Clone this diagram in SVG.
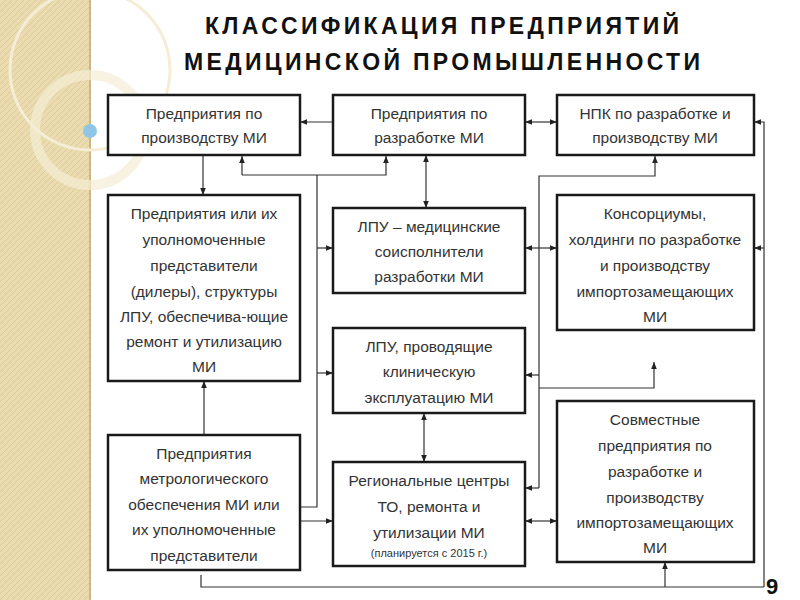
<svg xmlns="http://www.w3.org/2000/svg" width="800" height="600" viewBox="0 0 800 600">
<defs>
<marker id="a" viewBox="0 0 10 10" refX="10" refY="5" markerWidth="6" markerHeight="6" orient="auto-start-reverse"><path d="M0,1 L10,5 L0,9 z" fill="#222"/></marker>
<pattern id="p" width="6" height="6" patternUnits="userSpaceOnUse"><rect width="6" height="6" fill="#eadcb0"/><path d="M0,6 L6,0" stroke="#dccb98" stroke-width="1"/></pattern>
</defs>
<style>
.b{fill:#fff;stroke:#1a1a1a;stroke-width:2.5}
.t{font-family:"Liberation Sans",Arial,sans-serif;font-size:15.5px;fill:#333;text-anchor:middle}
.c{fill:none;stroke:#333;stroke-width:1.2}
.h{font-family:"Liberation Sans",Arial,sans-serif;font-size:23px;font-weight:bold;fill:#111;text-anchor:middle}
</style>
<rect width="800" height="600" fill="#fff"/>
<rect x="0" y="0" width="90" height="600" fill="url(#p)"/>
<line x1="90" y1="0" x2="90" y2="600" stroke="#ccb884" stroke-width="2"/>
<circle cx="90" cy="70" r="80" fill="none" stroke="#f5edd5" stroke-width="3"/>
<circle cx="90" cy="130" r="55" fill="none" stroke="#f5edd5" stroke-width="10" opacity="0.7"/>
<circle cx="90" cy="131" r="7" fill="#8fc6e8"/>
<text class="h" x="442" y="34" textLength="474" lengthAdjust="spacing">КЛАССИФИКАЦИЯ ПРЕДПРИЯТИЙ</text>
<text class="h" x="442" y="70" textLength="516" lengthAdjust="spacing">МЕДИЦИНСКОЙ ПРОМЫШЛЕННОСТИ</text>
<g id="connectors">
<path class="c" d="M333,122 H300" marker-end="url(#a)"/>
<path class="c" d="M525,122 H557" marker-start="url(#a)" marker-end="url(#a)"/>
<path class="c" d="M764,587 V122 H754" marker-end="url(#a)"/>
<path class="c" d="M764,248 H754" marker-end="url(#a)"/>
<path class="c" d="M203,155 V195" marker-end="url(#a)"/>
<path class="c" d="M242,175 V156" marker-end="url(#a)"/>
<path class="c" d="M242,175 H386 V156" marker-end="url(#a)"/>
<path class="c" d="M300,507 H317 V175"/>
<path class="c" d="M317,248 H333" marker-end="url(#a)"/>
<path class="c" d="M317,373 H333" marker-end="url(#a)"/>
<path class="c" d="M426,155 V208" marker-start="url(#a)" marker-end="url(#a)"/>
<path class="c" d="M539,488 V176 H655 V156" marker-end="url(#a)"/>
<path class="c" d="M539,488 H525" marker-end="url(#a)"/>
<path class="c" d="M525,248 H557" marker-start="url(#a)" marker-end="url(#a)"/>
<path class="c" d="M539,375 H525" marker-end="url(#a)"/>
<path class="c" d="M539,388 H654 V362" marker-end="url(#a)"/>
<path class="c" d="M204,435 V381" marker-end="url(#a)"/>
<path class="c" d="M300,521 H333" marker-end="url(#a)"/>
<path class="c" d="M424,413 V462" marker-start="url(#a)" marker-end="url(#a)"/>
<path class="c" d="M525,521 H557" marker-start="url(#a)" marker-end="url(#a)"/>
<path class="c" d="M201,575 V587 H764"/>
<path class="c" d="M665,587 V562" marker-end="url(#a)"/>
</g>
<g id="n1"><rect class="b" x="108" y="95" width="192" height="60"/><text class="t" x="204" y="119">Предприятия по</text><text class="t" x="204" y="143">производству МИ</text></g>
<g id="n2"><rect class="b" x="333" y="95" width="192" height="60"/><text class="t" x="429" y="119">Предприятия по</text><text class="t" x="429" y="143">разработке МИ</text></g>
<g id="n3"><rect class="b" x="557" y="95" width="197" height="60"/><text class="t" x="655" y="119">НПК по разработке и</text><text class="t" x="655" y="143">производству МИ</text></g>
<g id="n4"><rect class="b" x="108" y="195" width="192" height="186"/>
<text class="t" x="204" y="219">Предприятия или их</text><text class="t" x="204" y="245">уполномоченные</text><text class="t" x="204" y="271">представители</text><text class="t" x="204" y="297">(дилеры), структуры</text><text class="t" x="204" y="322">ЛПУ, обеспечива-ющие</text><text class="t" x="204" y="347">ремонт и утилизацию</text><text class="t" x="204" y="372">МИ</text></g>
<g id="n5"><rect class="b" x="333" y="208" width="192" height="85"/><text class="t" x="429" y="232">ЛПУ – медицинские</text><text class="t" x="429" y="257">соисполнители</text><text class="t" x="429" y="282">разработки МИ</text></g>
<g id="n6"><rect class="b" x="557" y="195" width="197" height="135"/><text class="t" x="655" y="219">Консорциумы,</text><text class="t" x="655" y="245">холдинги по разработке</text><text class="t" x="655" y="271">и производству</text><text class="t" x="655" y="297">импортозамещающих</text><text class="t" x="655" y="322">МИ</text></g>
<g id="n7"><rect class="b" x="333" y="328" width="192" height="85"/><text class="t" x="429" y="352">ЛПУ, проводящие</text><text class="t" x="429" y="377">клиническую</text><text class="t" x="429" y="403">эксплуатацию МИ</text></g>
<g id="n8"><rect class="b" x="557" y="401" width="197" height="161"/><text class="t" x="655" y="425">Совместные</text><text class="t" x="655" y="451">предприятия по</text><text class="t" x="655" y="477">разработке и</text><text class="t" x="655" y="503">производству</text><text class="t" x="655" y="528">импортозамещающих</text><text class="t" x="655" y="553">МИ</text></g>
<g id="n9"><rect class="b" x="108" y="435" width="192" height="135"/><text class="t" x="204" y="459">Предприятия</text><text class="t" x="204" y="484">метрологического</text><text class="t" x="204" y="510">обеспечения МИ или</text><text class="t" x="204" y="535">их уполномоченные</text><text class="t" x="204" y="561">представители</text></g>
<g id="n10"><rect class="b" x="333" y="462" width="192" height="104"/><text class="t" x="429" y="486">Региональные центры</text><text class="t" x="429" y="512">ТО, ремонта и</text><text class="t" x="429" y="538">утилизации МИ</text><text class="t" x="429" y="557" style="font-size:11px">(планируется с 2015 г.)</text></g>
<text x="772" y="594" style="font-family:'Liberation Sans',Arial,sans-serif;font-size:22px;font-weight:bold;fill:#111;text-anchor:middle">9</text>
</svg>
